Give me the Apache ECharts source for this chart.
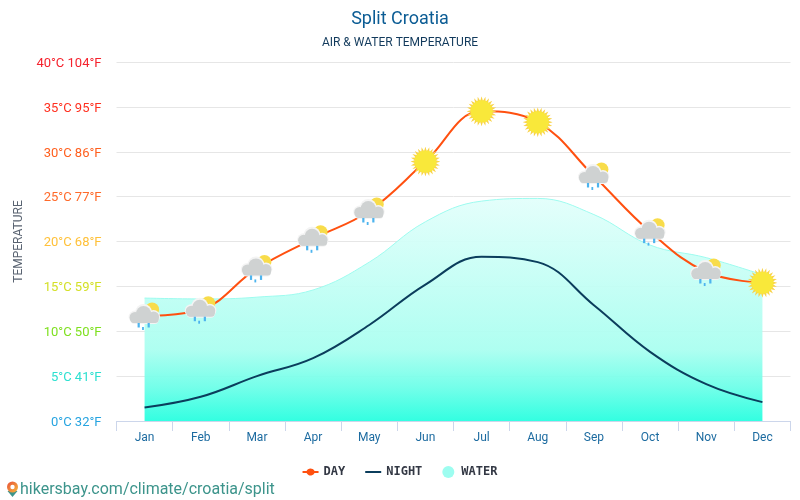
<!DOCTYPE html>
<html>
<head>
<meta charset="utf-8">
<style>html,body{margin:0;padding:0;background:#fff}#main{width:800px;height:500px}</style>
<script src="https://cdn.jsdelivr.net/npm/echarts@6/dist/echarts.min.js"></script>
</head>
<body>
<div id="main"></div>
<script>
const months = ['Jan','Feb','Mar','Apr','May','Jun','Jul','Aug','Sep','Oct','Nov','Dec'];
const dayTemp = [11.7,12.4,17,20.3,23.4,28.9,34.5,33.3,27.3,21.1,16.6,15.4];
const nightTemp = [1.5,2.7,5,7,10.7,15.2,18.3,17.7,12.9,7.7,4.1,2.1];
const waterTemp = [13.7,13.6,13.8,14.6,17.7,22.2,24.5,24.8,23,19.6,18.2,16.3];
const dayIcons = ['rain','rain','rain','rain','rain','sun','sun','sun','rain','rain','rain','sun'];
const tickLabels = ['0°C 32°F','5°C 41°F','10°C 50°F','15°C 59°F','20°C 68°F','25°C 77°F','30°C 86°F','35°C 95°F','40°C 104°F'];
const tickColors = ['#27a4e0','#2de0d0','#7fe020','#d4e028','#ffc13a','#ff6a2a','#ff5f1e','#ff3020','#f5222d'];

// icons are inline svg, nothing is loaded from outside
function svgUri(s) {
    return 'image://data:image/svg+xml;charset=utf-8,' + encodeURIComponent(s);
}
function sunSvg() {
    let pts = [];
    for (let i = 0; i < 48; i++) {
        let r = i % 2 ? 10.5 : 15;
        let a = i * Math.PI / 24;
        pts.push((15 + r * Math.cos(a)).toFixed(2) + ',' + (15 + r * Math.sin(a)).toFixed(2));
    }
    return '<svg xmlns="http://www.w3.org/2000/svg" width="30" height="30" viewBox="0 0 30 30">' +
        '<polygon points="' + pts.join(' ') + '" fill="#f9d34a"/>' +
        '<circle cx="15" cy="15" r="11" fill="#f9e83a"/></svg>';
}
function rainSvg() {
    return '<svg xmlns="http://www.w3.org/2000/svg" width="34" height="30" viewBox="0 0 34 30">' +
        '<circle cx="24.5" cy="8.5" r="7" fill="#f8dc4a"/>' +
        '<g fill="#f4f4f4"><circle cx="7.5" cy="16" r="6.5"/><circle cx="16" cy="11.5" r="8.5"/><circle cx="26" cy="15.5" r="6.5"/><rect x="3" y="15" width="28" height="8" rx="4"/></g>' +
        '<g fill="#cfd2d2"><circle cx="7.5" cy="16.5" r="5.5"/><circle cx="16" cy="12.5" r="7.5"/><circle cx="26" cy="16" r="5.5"/><rect x="3" y="15" width="28" height="7" rx="3.5"/></g>' +
        '<g fill="#4db4ee"><rect x="10" y="22" width="2.2" height="4.5"/><rect x="20" y="22" width="2.2" height="4.5"/><rect x="14.5" y="26" width="1.8" height="3"/></g></svg>';
}
const sunIcon = svgUri(sunSvg());
const rainIcon = svgUri(rainSvg());

var myChart = echarts.init(document.getElementById('main'));
var option = {
    animation: false,
    textStyle: { fontFamily: 'Roboto' },
    title: [
        {
            text: 'Split Croatia',
            subtext: 'AIR & WATER TEMPERATURE',
            left: 'center',
            top: 5,
            itemGap: 9,
            textStyle: { color: '#0b5c94', fontSize: 18, fontWeight: 'normal', fontFamily: 'Roboto' },
            subtextStyle: { color: '#123a5c', fontSize: 12, fontFamily: 'Roboto' }
        },
        {
            text: 'hikersbay.com/climate/croatia/split',
            left: 15,
            top: 477,
            textStyle: { color: '#3c948b', fontSize: 16, fontWeight: 'normal', fontFamily: 'Roboto' }
        }
    ],
    legend: {
        bottom: 17,
        left: 'center',
        itemGap: 20,
        itemWidth: 16,
        itemHeight: 12,
        textStyle: { fontFamily: 'DejaVu Sans Mono', fontWeight: 'bold', fontSize: 12, color: '#333844' },
        data: [
            { name: 'DAY', icon: 'path://M0 5H4A4.5 4.5 0 0 1 12 5H16V7H12A4.5 4.5 0 0 1 4 7H0Z' },
            { name: 'NIGHT', icon: 'path://M0 5H16V7H0Z' },
            { name: 'WATER', icon: 'circle' }
        ]
    },
    grid: { left: 116.5, right: 9.5, top: 62, bottom: 79 },
    xAxis: {
        type: 'category',
        data: months,
        boundaryGap: true,
        axisLine: { lineStyle: { color: '#ccd6eb' } },
        axisTick: { show: true, length: 10, lineStyle: { color: '#ccd6eb' } },
        axisLabel: { color: '#1c6ba0', fontSize: 12, margin: 11 }
    },
    yAxis: {
        type: 'value',
        min: 0,
        max: 40,
        interval: 5,
        name: 'TEMPERATURE',
        nameLocation: 'middle',
        nameGap: 88,
        nameTextStyle: { color: '#5a6472', fontSize: 12 },
        axisLine: { show: false },
        axisTick: { show: false },
        splitLine: { lineStyle: { color: '#e6e6e6' } },
        axisLabel: {
            fontSize: 13,
            margin: 15,
            verticalAlign: 'top',
            lineHeight: 3,
            formatter: function(v) { return tickLabels[v / 5]; },
            color: function(v) { return tickColors[v / 5]; }
        }
    },
    series: [
        {
            name: 'WATER',
            type: 'line',
            smooth: 0.4,
            symbol: 'none',
            data: waterTemp,
            z: 1,
            itemStyle: { color: '#9dfdf0' },
            lineStyle: { color: '#9dfbef', width: 1 },
            areaStyle: {
                opacity: 0.92,
                color: new echarts.graphic.LinearGradient(0, 0, 0, 1, [
                    { offset: 0, color: '#e2fffb' },
                    { offset: 0.45, color: '#bcfff4' },
                    { offset: 0.68, color: '#a8fff0' },
                    { offset: 0.85, color: '#68ffe8' },
                    { offset: 1, color: '#22ffdf' }
                ])
            }
        },
        {
            name: 'NIGHT',
            type: 'line',
            smooth: 0.4,
            symbol: 'none',
            data: nightTemp,
            z: 2,
            itemStyle: { color: '#0b3d5c' },
            lineStyle: { color: '#0b3d5c', width: 2 }
        },
        {
            name: 'DAY',
            type: 'line',
            smooth: 0.4,
            data: dayTemp.map((v, i) => ({
                value: v,
                symbol: dayIcons[i] === 'sun' ? sunIcon : rainIcon,
                symbolSize: dayIcons[i] === 'sun' ? [30, 30] : [34, 30]
            })),
            z: 3,
            itemStyle: { color: '#ff5010' },
            lineStyle: { color: '#ff5010', width: 2 }
        }
    ],
    // little map pin in front of the site address
    graphic: [
        {
            type: 'polygon',
            shape: { points: [[7.5, 491], [17.5, 491], [12.5, 497]] },
            style: { fill: '#3c948b' }
        },
        {
            type: 'circle',
            shape: { cx: 12.5, cy: 487, r: 5.5 },
            style: {
                fill: new echarts.graphic.LinearGradient(0, 0, 1, 1, [
                    { offset: 0, color: '#e8503a' },
                    { offset: 1, color: '#f5b83a' }
                ])
            }
        },
        {
            type: 'circle',
            shape: { cx: 12.5, cy: 487, r: 2.2 },
            style: { fill: '#fff' }
        }
    ]
};
myChart.setOption(option);
</script>
</body>
</html>
